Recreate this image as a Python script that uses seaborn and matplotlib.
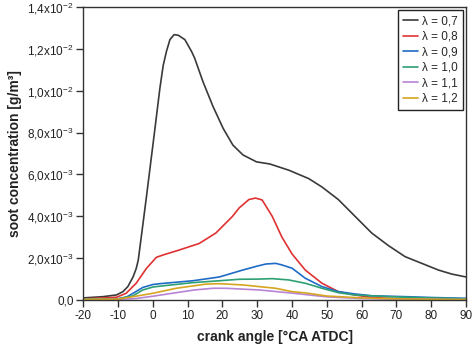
import numpy as np
import pandas as pd
import matplotlib
matplotlib.use("Agg")
import matplotlib.pyplot as plt
import seaborn as sns

# ---- data (soot concentration in units of 1e-3 g/m^3) ----
labels = ["λ = 0,7", "λ = 0,8", "λ = 0,9", "λ = 1,0", "λ = 1,1", "λ = 1,2"]
colors = ["#3a3a3a", "#e03232", "#1f6cc6", "#2fa074", "#b784d6", "#d6a520"]

x07 = [-20, -14.3, -10.5, -8.6, -7.2, -5.7, -4.8, -4.2, -2.96, -1.8, -0.6, 0.6, 2.0, 2.96, 3.9,
       4.9, 6.1, 7.3, 9.2, 11.1, 12.0, 14.4, 17.3, 20.2, 23, 25.9, 29.8, 33.6, 39.1, 44.8, 48.6,
       53.3, 58.1, 62.9, 67.7, 72.5, 77.3, 82.1, 85.9, 90]
y07 = [0.1, 0.16, 0.24, 0.4, 0.64, 1.1, 1.5, 1.91, 3.5, 5.0, 6.6, 8.2, 10.1, 11.2, 11.88,
       12.44, 12.68, 12.65, 12.44, 11.88, 11.56, 10.43, 9.24, 8.2, 7.4, 6.93, 6.6, 6.5, 6.2, 5.8, 5.4,
       4.8, 4.0, 3.2, 2.6, 2.07, 1.75, 1.43, 1.24, 1.1]

x08 = [-20, -10.5, -7.7, -4.8, -1.9, 1.0, 2.9, 7.6, 13.3, 18.1, 22.9, 24.8, 27.6, 29.5, 31.4,
       34.3, 37.1, 40, 43.8, 48.6, 53.3, 58, 63, 70, 80, 90]
y08 = [0.05, 0.13, 0.32, 0.8, 1.5, 2.04, 2.15, 2.39, 2.7, 3.2, 4.0, 4.4, 4.8, 4.87, 4.78,
       4.0, 3.0, 2.2, 1.43, 0.8, 0.4, 0.24, 0.12, 0.06, 0.04, 0.03]

x09 = [-20, -10, -7.5, -5.7, -2.9, 0, 2.0, 11.5, 19.1, 25.8, 30, 32.5, 35.3, 37, 40, 43.8,
       48.6, 53.3, 58, 63, 72.5, 80, 90]
y09 = [0.05, 0.06, 0.15, 0.32, 0.6, 0.74, 0.78, 0.92, 1.1, 1.43, 1.62, 1.72, 1.75, 1.68, 1.52, 1.04,
       0.64, 0.4, 0.29, 0.2, 0.16, 0.12, 0.08]

x10 = [-20, -10, -5.7, -2.9, 0, 2.0, 11.5, 19.1, 24.8, 30.5, 34.3, 39, 43.8, 48.6, 53.3, 58,
       67.7, 77, 90]
y10 = [0.05, 0.05, 0.2, 0.48, 0.62, 0.66, 0.83, 0.92, 0.99, 1.0, 1.02, 0.96, 0.8, 0.56, 0.35, 0.24,
       0.16, 0.11, 0.06]

x11 = [-20, -10, -5, 0, 6.7, 12, 17.3, 21, 30.5, 40, 50, 60, 70, 90]
y11 = [0.02, 0.03, 0.07, 0.18, 0.35, 0.48, 0.56, 0.56, 0.48, 0.33, 0.15, 0.07, 0.04, 0.02]

x12 = [-20, -10, -5.7, 0, 6.7, 15.3, 19, 25.8, 35.3, 40, 43.8, 50, 60, 70, 90]
y12 = [0.03, 0.04, 0.16, 0.32, 0.56, 0.76, 0.78, 0.72, 0.56, 0.40, 0.34, 0.19, 0.10, 0.05, 0.02]

xs = [x07, x08, x09, x10, x11, x12]
ys = [y07, y08, y09, y10, y11, y12]

yticks = [0, 0.002, 0.004, 0.006, 0.008, 0.010, 0.012, 0.014]
yticklabels = ["0,0", r"2,0x10$^{-3}$", r"4,0x10$^{-3}$", r"6,0x10$^{-3}$", r"8,0x10$^{-3}$",
               r"1,0x10$^{-2}$", r"1,2x10$^{-2}$", r"1,4x10$^{-2}$"]
xticks = list(range(-20, 91, 10))

frames = []
for lab, x, y in zip(labels, xs, ys):
    frames.append(pd.DataFrame({"angle": x, "soot": np.array(y) * 1e-3, "lam": lab}))
df = pd.concat(frames, ignore_index=True)

# ---- style ----
sns.set_theme(style="ticks")
plt.rcParams["font.family"] = ["Liberation Sans", "DejaVu Sans"]
plt.rcParams["mathtext.fontset"] = "custom"
plt.rcParams["mathtext.rm"] = "Liberation Sans"
plt.rcParams["mathtext.it"] = "Liberation Sans:italic"
plt.rcParams["mathtext.bf"] = "Liberation Sans:bold"

fig = plt.figure(figsize=(4.74, 3.48), dpi=100)
ax = fig.add_axes([83.3 / 474, 1 - 300 / 348, (466 - 83.3) / 474, (300 - 7) / 348])

sns.lineplot(data=df, x="angle", y="soot", hue="lam", hue_order=labels,
             palette=colors, sort=False, estimator=None, linewidth=1.2, ax=ax)

ax.set_xlim(-20, 90)
ax.set_ylim(0, 0.014)
ax.set_xticks(xticks)
ax.set_xticklabels([str(t) for t in xticks])
ax.set_yticks(yticks)
ax.set_yticklabels(yticklabels)
ax.tick_params(axis="both", direction="out", length=5, width=1, colors="#333333",
               labelsize=8.5, labelcolor="#222222", pad=2)
for s in ax.spines.values():
    s.set_visible(True)
    s.set_color("#333333")
    s.set_linewidth(1.0)

ax.set_xlabel("crank angle [°CA ATDC]", fontsize=10, fontweight="bold", color="#222222", labelpad=6)
ax.set_ylabel("soot concentration [g/m³]", fontsize=10, fontweight="bold", color="#222222", labelpad=4)

leg = ax.legend(loc="upper right", fontsize=8.5, frameon=True, fancybox=False,
                edgecolor="#222222", framealpha=1, borderaxespad=0.25, handlelength=1.3,
                handletextpad=0.3, borderpad=0.45, labelspacing=0.3, title=None)
leg.get_frame().set_linewidth(1.0)

fig.savefig("out.png", dpi=100)
